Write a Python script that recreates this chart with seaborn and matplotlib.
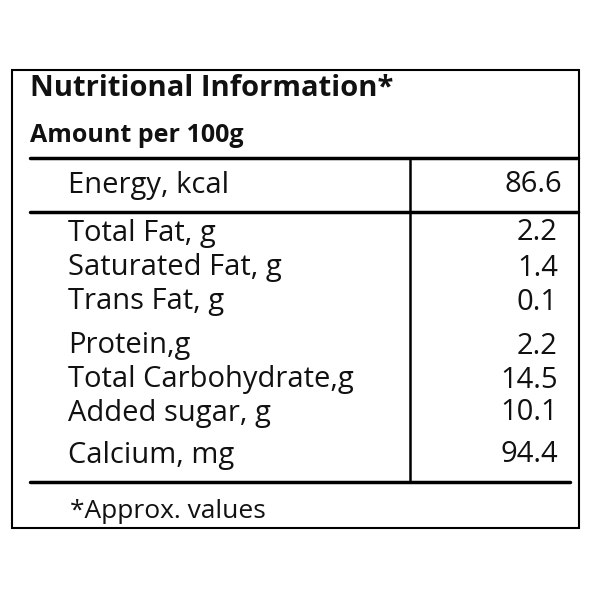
import matplotlib
matplotlib.use("Agg")
import matplotlib.pyplot as plt
import seaborn as sns

sns.set_theme(style="white")
plt.rcParams['font.family'] = ['Open Sans', 'DejaVu Sans']

title = "Nutritional Information*"
subtitle = "Amount per 100g"
energy_label = "Energy, kcal"
energy_value = "86.6"
nutrients = ["Total Fat, g", "Saturated Fat, g", "Trans Fat, g", "Protein,g",
             "Total Carbohydrate,g", "Added sugar, g", "Calcium, mg"]
values = ["2.2", "1.4", "0.1", "2.2", "14.5", "10.1", "94.4"]
footnote = "*Approx. values"

fig = plt.figure(figsize=(6, 6), dpi=100)
ax = fig.add_axes([0, 0, 1, 1])
ax.set_xlim(0, 600); ax.set_ylim(600, 0); ax.axis("off")

ax.add_patch(plt.Rectangle((12, 70), 567, 458, fill=False, lw=1.5, color="black"))
ax.text(30, 88, title, fontsize=21, fontweight="bold", va="center", color="#111")
ax.text(30, 135, subtitle, fontsize=18, fontweight="bold", va="center", color="#111")
ax.plot([30, 578], [158, 158], color="black", lw=2.5)
ax.plot([30, 578], [212, 212], color="black", lw=2.5)
ax.plot([410, 410], [160, 480], color="black", lw=1.8)
ax.plot([30, 570], [482, 482], color="black", lw=2.5)

fs = 21
ax.text(68, 185, energy_label, fontsize=fs, va="center", color="#111")
ax.text(562, 185, energy_value, fontsize=fs, va="center", ha="right", color="#111")
ys = [233, 268, 302, 346, 380, 413, 455]
for y, n, v in zip(ys, nutrients, values):
    ax.text(68, y, n, fontsize=fs, va="center", color="#111")
    ax.text(558, y, v, fontsize=fs, va="center", ha="right", color="#111")
ax.text(70, 512, footnote, fontsize=19, va="center", color="#111")
fig.savefig("out.png", dpi=100)
